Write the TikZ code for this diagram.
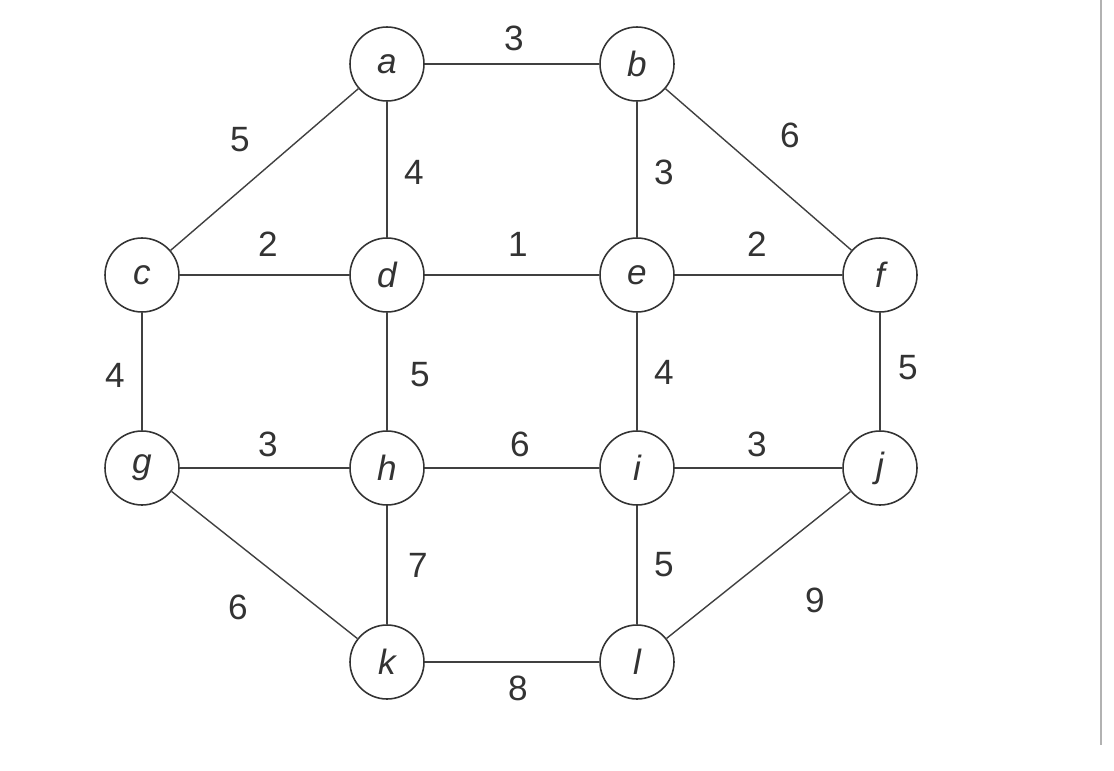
\documentclass[tikz,border=0pt]{standalone}
\usepackage{fontspec}
\setmainfont{Liberation Sans}
\begin{document}
\begin{tikzpicture}[x=0.02cm,y=-0.02cm,
  vtx/.style={circle,draw=black!80,line width=0.9pt,minimum size=1.48cm,inner sep=0pt,font=\fontsize{20}{24}\selectfont\itshape,text=black!80},
  wt/.style={font=\fontsize{20}{24}\selectfont,text=black!80},
  edge/.style={draw=black!75,line width=0.8pt}]
\useasboundingbox (0,0) rectangle (1114,770);
\node[vtx] (a) at (387,64) {a};
\node[vtx] (b) at (637,64) {b};
\node[vtx] (c) at (142,275) {c};
\node[vtx] (d) at (387,275) {d};
\node[vtx] (e) at (637,275) {e};
\node[vtx] (f) at (880,275) {f};
\node[vtx] (g) at (142,468) {g};
\node[vtx] (h) at (387,468) {h};
\node[vtx] (i) at (637,468) {i};
\node[vtx] (j) at (880,468) {j};
\node[vtx] (k) at (387,662) {k};
\node[vtx] (l) at (637,662) {l};
\foreach \u/\v in {a/b,a/c,a/d,b/e,b/f,c/d,d/e,e/f,c/g,d/h,e/i,f/j,g/h,h/i,i/j,h/k,i/l,g/k,j/l,k/l}
  \draw[edge] (\u) -- (\v);
\node[wt] (wab) at (514,38) {3};
\node[wt] (wac) at (240,140) {5};
\node[wt] (wad) at (414,172) {4};
\node[wt] (wbe) at (664,172) {3};
\node[wt] (wbf) at (790,135) {6};
\node[wt] (wcd) at (268,244) {2};
\node[wt] (wde) at (518,244) {1};
\node[wt] (wef) at (757,244) {2};
\node[wt] (wcg) at (115,375) {4};
\node[wt] (wdh) at (420,375) {5};
\node[wt] (wei) at (664,372) {4};
\node[wt] (wfj) at (908,368) {5};
\node[wt] (wgh) at (268,444) {3};
\node[wt] (whi) at (520,444) {6};
\node[wt] (wij) at (757,444) {3};
\node[wt] (whk) at (418,565) {7};
\node[wt] (wil) at (664,565) {5};
\node[wt] (wgk) at (238,607) {6};
\node[wt] (wjl) at (815,600) {9};
\node[wt] (wkl) at (518,688) {8};
\coordinate (r1) at (1101,0);
\coordinate (r2) at (1101,745);
\draw[black!30,line width=0.6pt] (r1) -- (r2);
\end{tikzpicture}
\end{document}
